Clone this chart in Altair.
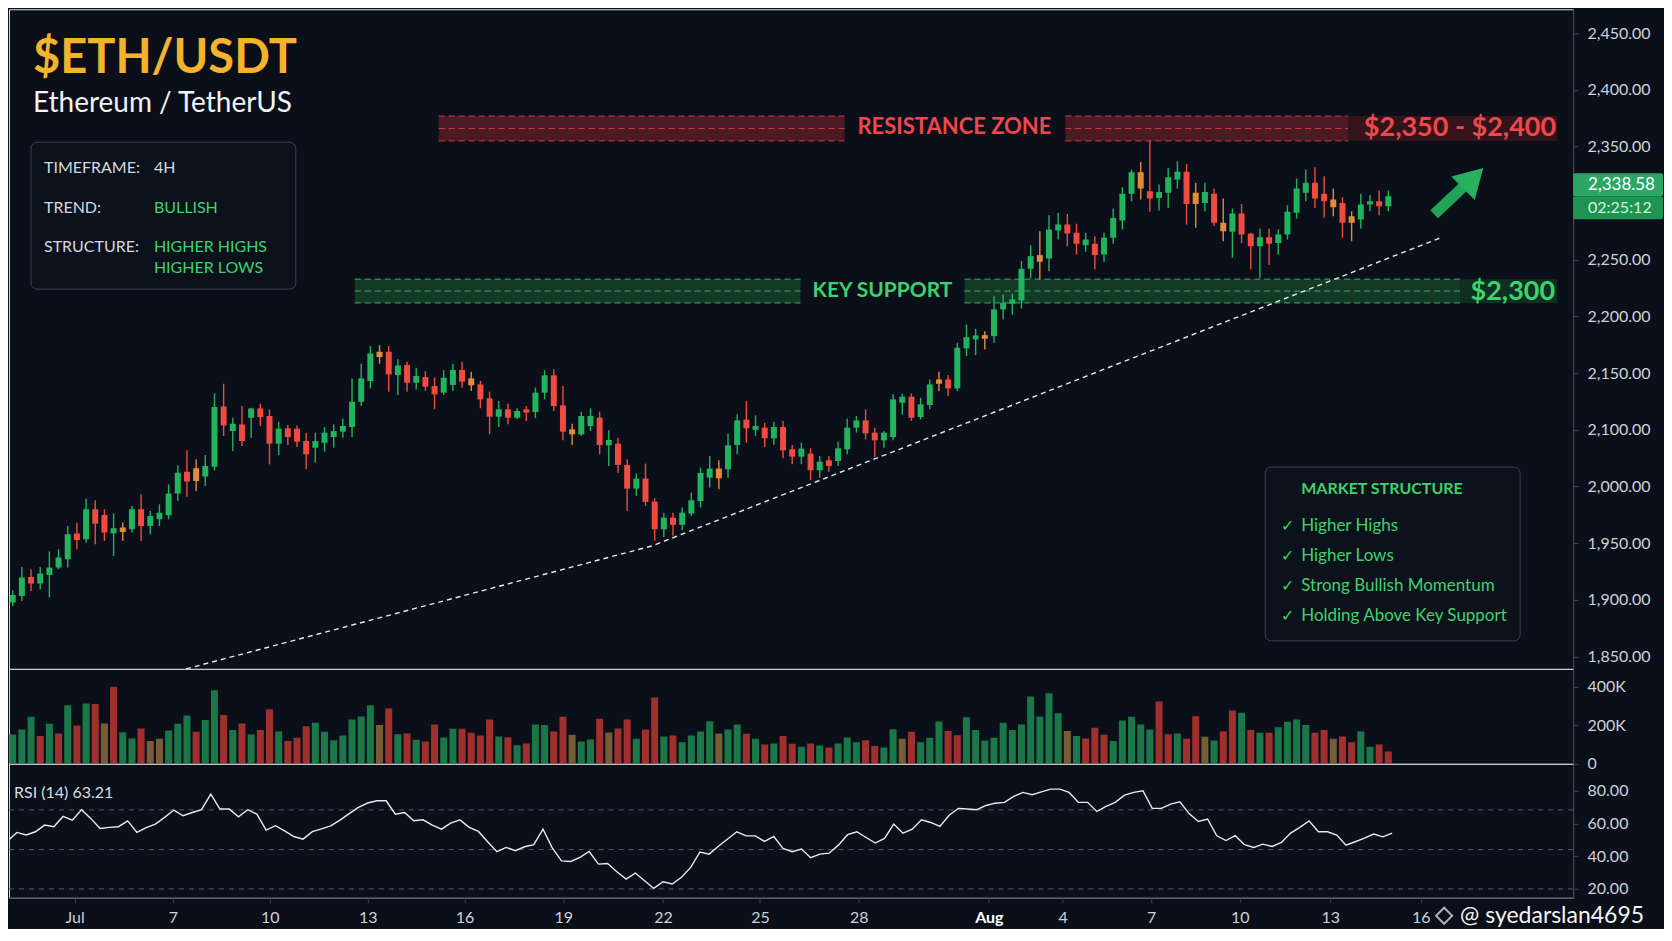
import json
import pandas as pd
import altair as alt

# ---------------- data ----------------
opens = [1947.5, 1953.4, 1970.2, 1964.3, 1971.9, 1978.4, 1985.7, 2008.4, 2003.4, 2029.9,
         2024.9, 2008.7, 2013.7, 2012.2, 2029.9, 2015.2, 2021.0, 2024.6, 2043.7, 2063.1,
         2054.8, 2058.7, 2067.5, 2120.7, 2098.9, 2104.8, 2110.7, 2118.9, 2112.2, 2087.8,
         2101.3, 2101.0, 2090.1, 2084.2, 2088.6, 2093.6, 2098.4, 2102.5, 2124.8, 2143.0,
         2164.2, 2168.9, 2148.3, 2157.2, 2141.6, 2146.6, 2138.7, 2132.8, 2139.6, 2152.8,
         2145.4, 2140.1, 2127.8, 2111.6, 2118.1, 2110.7, 2118.1, 2115.7, 2132.8, 2148.1,
         2121.6, 2100.4, 2096.0, 2103.4, 2110.7, 2086.3, 2087.8, 2069.0, 2048.1, 2056.9,
         2036.7, 2012.2, 2022.5, 2016.1, 2026.1, 2037.2, 2057.8, 2065.8, 2065.2, 2086.6,
         2109.0, 2099.9, 2101.9, 2092.5, 2102.5, 2082.8, 2076.3, 2079.0, 2064.3, 2073.1,
         2072.5, 2082.8, 2101.9, 2108.3, 2097.5, 2090.7, 2093.6, 2123.9, 2129.2, 2111.3,
         2121.9, 2140.7, 2144.5, 2136.6, 2171.9, 2179.8, 2180.4, 2182.7, 2206.3, 2211.2,
         2214.2, 2242.1, 2254.2, 2251.2, 2275.9, 2281.2, 2273.9, 2263.0, 2264.2, 2254.8,
         2269.5, 2284.7, 2308.3, 2327.4, 2310.6, 2304.7, 2309.2, 2320.9, 2327.7, 2309.2,
         2300.3, 2308.3, 2282.7, 2274.8, 2290.9, 2273.0, 2262.1, 2270.0, 2265.0, 2272.4,
         2291.5, 2309.2, 2318.0, 2308.3, 2303.3, 2300.3, 2288.6, 2285.6, 2298.9, 2301.8,
         2297.4]
highs = [1958.4, 1979.0, 1976.9, 1979.0, 1992.5, 1994.6, 2015.2, 2018.1, 2039.3, 2037.8,
         2029.9, 2026.3, 2018.1, 2032.8, 2043.1, 2028.4, 2034.3, 2051.9, 2068.7, 2081.9,
         2074.0, 2077.8, 2132.2, 2140.7, 2110.7, 2121.0, 2119.5, 2123.0, 2118.0, 2107.2,
         2104.2, 2103.9, 2097.5, 2097.5, 2102.5, 2104.8, 2110.1, 2145.4, 2158.3, 2173.9,
         2174.8, 2173.9, 2162.2, 2160.1, 2154.8, 2151.9, 2146.0, 2152.5, 2158.4, 2160.1,
         2151.3, 2143.1, 2133.7, 2125.4, 2123.1, 2119.0, 2121.0, 2137.2, 2152.5, 2153.4,
         2138.7, 2105.4, 2116.0, 2119.0, 2116.0, 2099.6, 2093.1, 2074.0, 2061.3, 2070.2,
         2039.6, 2026.9, 2026.9, 2031.4, 2044.6, 2066.6, 2076.9, 2073.1, 2096.6, 2113.7,
         2125.4, 2112.8, 2106.3, 2107.2, 2107.8, 2086.6, 2088.7, 2083.7, 2076.9, 2076.9,
         2089.5, 2110.1, 2112.2, 2118.1, 2101.9, 2099.0, 2131.3, 2131.9, 2132.2, 2128.3,
         2144.5, 2151.3, 2148.3, 2176.9, 2193.0, 2189.2, 2187.1, 2218.0, 2219.5, 2220.1,
         2248.9, 2263.0, 2275.3, 2289.5, 2291.5, 2290.6, 2281.8, 2273.9, 2270.9, 2273.9,
         2295.3, 2314.1, 2329.7, 2336.5, 2355.3, 2316.5, 2331.2, 2337.1, 2334.7, 2318.0,
         2318.0, 2313.0, 2304.2, 2295.3, 2299.4, 2273.9, 2277.7, 2277.7, 2276.8, 2298.3,
         2321.8, 2329.7, 2331.8, 2323.9, 2313.0, 2305.3, 2293.0, 2308.3, 2307.1, 2311.2,
         2311.2]
lows = [1944.6, 1949.0, 1957.8, 1959.3, 1951.9, 1976.9, 1978.4, 1994.6, 2000.4, 1999.0,
        2001.9, 1988.7, 2001.9, 2009.3, 2001.9, 2007.8, 2015.2, 2021.0, 2037.2, 2041.0,
        2046.0, 2050.4, 2064.2, 2094.5, 2081.3, 2085.7, 2093.1, 2103.4, 2069.5, 2077.8,
        2086.6, 2084.8, 2065.1, 2071.0, 2080.7, 2084.2, 2093.1, 2093.6, 2121.0, 2136.6,
        2158.3, 2133.6, 2130.7, 2133.6, 2135.7, 2134.3, 2118.1, 2130.7, 2134.3, 2137.2,
        2134.3, 2119.0, 2096.0, 2102.5, 2104.9, 2109.3, 2107.8, 2110.2, 2126.9, 2116.6,
        2090.7, 2086.6, 2094.6, 2099.0, 2078.4, 2068.1, 2062.2, 2028.4, 2041.7, 2032.8,
        2002.0, 2005.5, 2006.4, 2011.4, 2024.0, 2031.4, 2049.0, 2047.5, 2057.8, 2078.4,
        2088.7, 2094.6, 2084.9, 2086.6, 2074.9, 2069.6, 2069.6, 2055.5, 2057.8, 2063.1,
        2068.1, 2078.4, 2097.5, 2091.6, 2076.0, 2084.2, 2090.7, 2113.6, 2107.8, 2109.2,
        2118.1, 2134.2, 2129.8, 2134.2, 2165.1, 2166.0, 2171.0, 2176.9, 2197.4, 2201.8,
        2207.1, 2233.6, 2232.7, 2240.1, 2268.0, 2262.1, 2254.8, 2257.1, 2241.5, 2248.3,
        2264.2, 2276.8, 2301.8, 2303.3, 2292.4, 2293.6, 2295.9, 2313.0, 2281.2, 2278.3,
        2293.0, 2279.8, 2266.5, 2251.8, 2265.0, 2241.5, 2234.2, 2245.4, 2254.8, 2268.0,
        2286.5, 2301.8, 2295.9, 2287.1, 2288.6, 2269.5, 2266.5, 2277.7, 2293.0, 2289.5,
        2293.0]
closes = [1954.3, 1969.6, 1964.3, 1973.1, 1978.4, 1987.2, 2007.8, 2002.8, 2029.9, 2017.2,
          2009.3, 2013.1, 2009.9, 2029.9, 2015.2, 2024.0, 2026.9, 2043.7, 2062.2, 2054.3,
          2066.0, 2068.1, 2120.1, 2103.9, 2105.4, 2090.1, 2118.9, 2111.3, 2087.8, 2101.0,
          2093.6, 2089.5, 2078.4, 2090.1, 2097.5, 2098.9, 2103.4, 2124.8, 2145.4, 2167.4,
          2168.9, 2148.9, 2156.8, 2141.6, 2147.5, 2138.1, 2131.3, 2146.0, 2152.8, 2142.5,
          2139.3, 2126.9, 2111.6, 2118.1, 2110.7, 2116.6, 2115.2, 2132.8, 2148.1, 2121.0,
          2098.4, 2096.0, 2112.2, 2112.2, 2086.6, 2091.0, 2069.0, 2048.1, 2056.9, 2036.4,
          2012.2, 2022.5, 2016.1, 2026.9, 2037.8, 2061.9, 2065.8, 2057.2, 2086.3, 2108.4,
          2101.3, 2103.4, 2092.5, 2102.5, 2081.9, 2076.3, 2083.4, 2064.3, 2071.9, 2068.1,
          2083.7, 2101.9, 2108.3, 2096.9, 2090.7, 2097.5, 2126.9, 2129.2, 2110.7, 2122.5,
          2140.1, 2144.5, 2136.6, 2172.4, 2181.8, 2183.3, 2183.6, 2206.3, 2212.1, 2215.1,
          2242.1, 2253.3, 2248.3, 2276.8, 2281.2, 2273.3, 2264.2, 2268.0, 2254.2, 2269.5,
          2287.0, 2308.3, 2327.4, 2313.0, 2304.2, 2310.0, 2323.0, 2327.7, 2299.4, 2299.4,
          2310.0, 2282.7, 2275.3, 2290.9, 2272.4, 2262.1, 2270.0, 2264.2, 2272.4, 2292.4,
          2313.0, 2318.0, 2304.2, 2301.8, 2296.5, 2282.7, 2282.7, 2298.9, 2301.8, 2297.4,
          2306.2]
candle_dir = list("uuduuuudud" "dunuduuuud" "nuudududdu" "ddduuuuuuu" "ndududduud"
                  "nddududuud" "dnuududdud" "duduuuunuu" "dududdudud" "uuudduuudu"
                  "unduuunuuu" "uunuuddudu" "uuunduuudn" "udnudduduu" "uuddndnuud" "u")

volume_k = [152, 178, 244, 144, 208, 157, 304, 199, 313, 310,
            209, 400, 164, 131, 183, 118, 130, 173, 208, 251,
            166, 227, 382, 254, 176, 209, 152, 175, 284, 168,
            119, 135, 195, 213, 166, 123, 147, 230, 246, 304,
            201, 287, 154, 157, 125, 116, 204, 137, 182, 182,
            161, 147, 230, 142, 138, 97, 106, 204, 201, 168,
            244, 151, 116, 126, 234, 163, 183, 230, 130, 178,
            344, 142, 147, 112, 147, 168,
            221, 157, 178, 204, 156, 130, 100, 106, 144, 104,
            88, 106, 95, 85, 106, 137, 112, 123, 92, 85,
            180, 130, 166, 112, 135, 220, 170, 149, 242, 175,
            121, 135, 213, 175, 204, 349, 246, 367, 263, 171,
            144, 131, 187, 151, 118, 225, 244, 204, 178, 324,
            154, 157, 130, 247, 140, 121, 168, 277, 265, 175,
            161, 161, 190, 218, 230, 201, 161, 176, 130, 142,
            112, 168, 88, 100, 64]
volume_dir = list("uuudududud" "nduudnnuuu" "duudududdu" "ddduuuuuuu" "ndududduud"
                  "dddududuud" "dnuudnddud" "duduuu"
                  "unuudududd" "ududuuuddu" "unduuudduu" "uuuuuuuuun" "uddduuuuud"
                  "duddnuddud" "uduuuuddnd" "duudd")

rsi = [49.4, 54.5, 52.9, 54.9, 59.0, 58.0, 64.3, 62.0, 68.4, 63.1,
       56.9, 57.6, 58.0, 61.6, 54.5, 57.5, 59.6, 63.7, 68.2, 64.7,
       66.7, 68.4, 78.0, 68.8, 68.8, 64.1, 68.4, 65.7, 55.9, 58.6,
       55.5, 52.0, 50.4, 55.0, 56.7, 58.5, 62.0, 66.0,
       69.8, 72.5, 73.9, 73.9, 65.7, 66.7, 61.6, 62.2, 59.0, 56.5,
       60.2, 62.2, 57.6, 55.1, 48.8, 42.7, 45.3, 43.3, 45.7, 47.0,
       56.5, 45.0, 37.1, 36.7, 39.2, 42.8, 35.1, 35.5, 30.4, 25.9,
       29.6, 24.9, 20.2, 24.3, 22.9, 27.0, 33.1, 42.5, 41.2, 46.0,
       50.5, 54.9, 52.4, 52.4, 49.0, 52.0, 44.7, 42.7, 44.3, 39.0,
       41.2, 41.8, 46.7, 53.1, 54.9, 51.4, 48.0, 50.8, 59.6, 54.0,
       56.5, 62.2, 60.6, 58.2, 65.0, 69.2, 68.8, 68.4, 71.0, 72.4,
       72.9, 76.5, 79.0, 77.6, 79.3,
       81.0, 81.0, 79.0, 72.9, 72.9, 67.3, 70.4, 72.9, 77.3, 79.0,
       80.0, 69.2, 69.2, 71.8, 73.3, 66.0, 61.2, 62.7, 52.4, 49.5,
       52.5, 47.0, 45.3, 47.3, 45.9, 48.4, 54.1, 57.6, 61.6, 54.9,
       54.9, 52.9, 46.7, 48.8, 51.0, 53.5, 51.8, 54.1]

price_ticks = [2450, 2400, 2350, 2250, 2200, 2150, 2100, 2050, 2000, 1950, 1900]
price_tick_text = ["2,450.00", "2,400.00", "2,350.00", "2,250.00", "2,200.00", "2,150.00",
                   "2,100.00", "2,000.00", "1,950.00", "1,900.00", "1,850.00"]
vol_ticks = [0, 200, 400]
vol_tick_text = ["0", "200K", "400K"]
rsi_ticks = [20, 40, 60, 80]
rsi_tick_text = ["20.00", "40.00", "60.00", "80.00"]
rsi_levels = [68.3, 44.0, 19.9]
date_ticks = [7.25, 17.9, 28.4, 39.0, 49.5, 60.2, 71.0, 81.5, 92.2, 106.3, 114.3, 123.9, 133.5, 143.3, 153.1]
date_tick_text = ["Jul", "7", "10", "13", "16", "19", "22", "25", "28", "Aug", "4", "7", "10", "13", "16"]
resistance_zone = [2355.0, 2377.0]
support_zone = [2212.0, 2233.0]
trend_i = [18.9, 69.7, 155.6]
trend_p = [1889.0, 1997.5, 2269.2]
last_price_text = "2,338.58"
countdown_text = "02:25:12"
rsi_title = "RSI (14) 63.21"
structure_items = ["Higher Highs", "Higher Lows", "Strong Bullish Momentum", "Holding Above Key Support"]

# ---------------- layout & style ----------------
N = min(len(opens), len(highs), len(lows), len(closes), len(candle_dir))
NV = min(len(volume_k), len(volume_dir))
NR = len(rsi)

W = 1565
H_PRICE, H_VOL, H_RSI = 660, 95, 134
X_DOMAIN = [0.14, 169.6]
P_DOMAIN = [1889.0, 2471.2]
V_DOMAIN = [0, 493]
R_DOMAIN = [14.5, 96.5]

FONT = "Lato"
BG = "#0a0f1a"
AXIS_LINE = "#3a4150"
LABEL = "#cdd2da"
UP, DOWN, NEU = "#22b35e", "#ef4b40", "#e38b3b"
VUP, VDOWN, VNEU = "#1b7d4a", "#a8332f", "#7d6239"
GREEN_TXT = "#3fd16c"
RED_TXT = "#f0474d"
GOLD = "#f3b32b"

ONE = pd.DataFrame({"k": [0]})

xscale = alt.Scale(domain=X_DOMAIN, nice=False, zero=False)
pscale = alt.Scale(domain=P_DOMAIN, nice=False, zero=False)
vscale = alt.Scale(domain=V_DOMAIN, nice=False, zero=False)
rscale = alt.Scale(domain=R_DOMAIN, nice=False, zero=False)
cscale = alt.Scale(domain=["u", "d", "n"], range=[UP, DOWN, NEU])
vcscale = alt.Scale(domain=["u", "d", "n"], range=[VUP, VDOWN, VNEU])


def label_expr(vals, texts):
    return f"{json.dumps(texts)}[indexof({json.dumps(vals)}, datum.value)]"


def right_axis(values, texts):
    return alt.Axis(orient="right", values=values, labelExpr=label_expr(values, texts),
                    title=None, grid=False, domain=True, domainColor=AXIS_LINE,
                    ticks=True, tickColor=AXIS_LINE, tickSize=5, labelColor=LABEL,
                    labelFontSize=16, labelFont=FONT, labelPadding=9,
                    labelOverlap=False, labelFlush=False)


PRICE_AXIS = right_axis(price_ticks, price_tick_text)
VOL_AXIS = right_axis(vol_ticks, vol_tick_text)
RSI_AXIS = right_axis(rsi_ticks, rsi_tick_text)
HIDDEN_X = alt.Axis(labels=False, ticks=False, grid=False, domain=True,
                    domainColor=AXIS_LINE, title=None)
DATE_AXIS = alt.Axis(
    values=date_ticks, labelExpr=label_expr(date_ticks, date_tick_text), title=None,
    grid=False, domain=True, domainColor=AXIS_LINE, ticks=True, tickColor=AXIS_LINE,
    tickSize=5, labelFont=FONT, labelFontSize=16, labelPadding=7, labelOverlap=False,
    labelFlush=False,
    labelColor={"condition": {"test": "datum.value == 106.3", "value": "#ffffff"}, "value": LABEL},
    labelFontWeight={"condition": {"test": "datum.value == 106.3", "value": "bold"}, "value": "normal"})


def px(field):
    return alt.Y(field, scale=pscale, axis=PRICE_AXIS)


def txt(s, x, y, size, color, weight="normal", align="left", baseline="middle"):
    return alt.Chart(ONE).mark_text(
        text=s, fontSize=size, color=color, fontWeight=weight, align=align,
        baseline=baseline, font=FONT
    ).encode(x=alt.value(x), y=alt.value(y))


def box(x0, x1, y0, y1, fill, stroke=None, radius=0):
    kw = dict(fill=fill, cornerRadius=radius)
    if stroke:
        kw.update(stroke=stroke, strokeWidth=1)
    return alt.Chart(ONE).mark_rect(**kw).encode(
        x=alt.value(x0), x2=alt.value(x1), y=alt.value(y0), y2=alt.value(y1))


def band(x0, x1, zone, fill, dash):
    lo, hi = zone
    rect = alt.Chart(pd.DataFrame({"lo": [lo], "hi": [hi]})).mark_rect(fill=fill).encode(
        x=alt.value(x0), x2=alt.value(x1), y=px("lo:Q"), y2="hi:Q")
    lines = alt.Chart(pd.DataFrame({"lv": [lo, (lo + hi) / 2, hi]})).mark_rule(
        color=dash, strokeDash=[6, 4], strokeWidth=1, opacity=0.9).encode(
        x=alt.value(x0), x2=alt.value(x1), y=px("lv:Q"))
    return [rect, lines]


def label_box(x0, x1, zone, fill):
    lo, hi = zone
    return alt.Chart(pd.DataFrame({"lo": [lo], "hi": [hi]})).mark_rect(fill=fill).encode(
        x=alt.value(x0), x2=alt.value(x1), y=px("lo:Q"), y2="hi:Q")


# ---------------- price panel ----------------
cdf = pd.DataFrame({"i": list(range(N)), "o": opens[:N], "h": highs[:N],
                    "l": lows[:N], "c": closes[:N], "dir": candle_dir[:N]})

layers = []
layers += band(430, 836, resistance_zone, "#4b1a23", "#e0404b")
layers += band(1057, 1340, resistance_zone, "#4b1a23", "#e0404b")
layers.append(label_box(1340, 1549, resistance_zone, "#34141b"))
layers += band(346, 792, support_zone, "#123a27", "#3cc46a")
layers += band(956, 1452, support_zone, "#123a27", "#3cc46a")
layers.append(label_box(1452, 1549, support_zone, "#0f2f20"))

trend = alt.Chart(pd.DataFrame({"ti": trend_i, "tp": trend_p})).mark_line(
    color="#e9e9e9", strokeDash=[5, 4], strokeWidth=1.4, clip=True).encode(
    x=alt.X("ti:Q", scale=xscale, axis=HIDDEN_X), y=px("tp:Q"))
layers.append(trend)

wicks = alt.Chart(cdf).mark_rule(strokeWidth=1.4, clip=True).encode(
    x=alt.X("i:Q", scale=xscale, axis=HIDDEN_X),
    y=px("l:Q"), y2="h:Q",
    color=alt.Color("dir:N", scale=cscale, legend=None))
bodies = alt.Chart(cdf).mark_bar(size=6, clip=True).encode(
    x=alt.X("i:Q", scale=xscale, axis=HIDDEN_X),
    y=px("o:Q"), y2="c:Q",
    color=alt.Color("dir:N", scale=cscale, legend=None))
layers += [wicks, bodies]

# zone labels
layers.append(txt("RESISTANCE ZONE", 946, 118, 22, RED_TXT, "bold", "center"))
layers.append(txt("$2,350 - $2,400", 1548, 119, 27, RED_TXT, "bold", "right"))
layers.append(txt("KEY SUPPORT", 874, 282, 21, GREEN_TXT, "bold", "center"))
layers.append(txt("$2,300", 1547, 283, 27, GREEN_TXT, "bold", "right"))

# title block
layers.append(txt("$ETH/USDT", 24, 64, 47, GOLD, "bold", "left", "alphabetic"))
layers.append(txt("Ethereum / TetherUS", 24, 103, 28, "#f2f4f7", "normal", "left", "alphabetic"))
layers.append(box(22, 287, 133, 280, "#0c121c", "#3a4250", 6))
layers.append(txt("TIMEFRAME:", 35, 159, 16, "#d5d9e0"))
layers.append(txt("4H", 145, 159, 16, "#d5d9e0"))
layers.append(txt("TREND:", 35, 199, 16, "#d5d9e0"))
layers.append(txt("BULLISH", 145, 199, 16, GREEN_TXT))
layers.append(txt("STRUCTURE:", 35, 238, 16, "#d5d9e0"))
layers.append(txt("HIGHER HIGHS", 145, 238, 16, GREEN_TXT))
layers.append(txt("HIGHER LOWS", 145, 259, 16, GREEN_TXT))

# market structure box
layers.append(box(1257, 1512, 458, 632, "#0c121c", "#3a4250", 6))
layers.append(txt("MARKET STRUCTURE", 1293, 480, 16, GREEN_TXT, "bold"))
for k, item in enumerate(structure_items):
    yy = 517 + 30 * k
    layers.append(txt("\u2713", 1273, yy, 16, GREEN_TXT))
    layers.append(txt(item, 1293, yy, 17, GREEN_TXT))

# arrow
layers.append(alt.Chart(ONE).mark_rule(color="#22a458", strokeWidth=11, strokeCap="butt").encode(
    x=alt.value(1426), y=alt.value(205), x2=alt.value(1459), y2=alt.value(174)))
layers.append(alt.Chart(ONE).mark_point(shape="triangle-up", angle=45, filled=True, size=1100,
                                         color="#26b060", opacity=1).encode(
    x=alt.value(1465), y=alt.value(169)))

# last price tag
layers.append(box(1565, 1655, 164, 187, "#2ca565", None, 2))
layers.append(box(1565, 1655, 187, 210, "#1d9450", None, 2))
layers.append(txt(last_price_text, 1580, 176, 17, "#ffffff"))
layers.append(txt(countdown_text, 1580, 199, 16, "#d3f5df"))

price = alt.layer(*layers).properties(width=W, height=H_PRICE)

# ---------------- volume panel ----------------
vdf = pd.DataFrame({"i": list(range(NV)), "v": volume_k[:NV], "vdir": volume_dir[:NV]})
vol = alt.Chart(vdf).mark_bar(size=7, clip=True, opacity=0.95).encode(
    x=alt.X("i:Q", scale=xscale, axis=HIDDEN_X),
    y=alt.Y("v:Q", scale=vscale, axis=VOL_AXIS),
    color=alt.Color("vdir:N", scale=vcscale, legend=None)
).properties(width=W, height=H_VOL)

# ---------------- RSI panel ----------------
rdf = pd.DataFrame({"i": list(range(NR)), "r": rsi})

rsi_levels_layer = alt.Chart(pd.DataFrame({"lv": rsi_levels})).mark_rule(
    color="#565d6c", strokeDash=[5, 5], strokeWidth=1).encode(
    y=alt.Y("lv:Q", scale=rscale, axis=RSI_AXIS))
rsi_line = alt.Chart(rdf).mark_line(color="#e8eaee", strokeWidth=1.4, clip=True).encode(
    x=alt.X("i:Q", scale=xscale, axis=DATE_AXIS),
    y=alt.Y("r:Q", scale=rscale, axis=RSI_AXIS))
rsi_label = txt(rsi_title, 5, 29, 16, "#d9dde3")
logo = alt.Chart(ONE).mark_point(shape="diamond", size=260, filled=False, color="#f2f2f2",
                                 strokeWidth=2).encode(x=alt.value(1436), y=alt.value(152))
watermark = txt("@ syedarslan4695", 1452, 152, 23, "#f4f4f4")

rsi_panel = alt.layer(rsi_levels_layer, rsi_line, rsi_label, logo, watermark).properties(
    width=W, height=H_RSI)

chart = alt.vconcat(price, vol, rsi_panel, spacing=0, bounds="flush").resolve_scale(
    color="independent"
).properties(padding=0, background=BG).configure_view(stroke=None).configure(font=FONT)

chart.save("out.html", embed_options={"renderer": "svg", "actions": False})
